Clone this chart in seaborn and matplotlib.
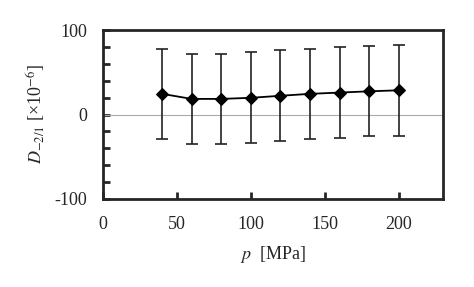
import matplotlib
matplotlib.use("Agg")
import matplotlib.pyplot as plt
from matplotlib.ticker import MultipleLocator
import seaborn as sns
import pandas as pd

# values
pressure = [40, 60, 80, 100, 120, 140, 160, 180, 200]
d_mean = [24.5, 18.5, 18.5, 19.8, 22.2, 24.5, 26.0, 27.5, 28.7]
d_err = [53.5, 53.5, 53.5, 53.8, 53.8, 53.5, 54.0, 53.5, 53.8]

df = pd.DataFrame({"p": pressure, "D": d_mean, "err": d_err})

sns.set_style("ticks")
plt.rcParams["font.family"] = ["Liberation Serif", "DejaVu Serif"]
plt.rcParams["mathtext.fontset"] = "stix"
plt.rcParams["axes.unicode_minus"] = False

fig = plt.figure(figsize=(4.74, 2.87), dpi=100)
ax = fig.add_axes([0.217, 0.307, 0.718, 0.588])

ax.axhline(0, color="#aaaaaa", lw=0.8, zorder=1)
ax.errorbar(df["p"], df["D"], yerr=df["err"], fmt="none", ecolor="#222222",
            elinewidth=1.2, capsize=4, capthick=1.2, zorder=2)
sns.lineplot(data=df, x="p", y="D", ax=ax, color="black", marker="D",
             markersize=6.5, linewidth=1.3, markeredgecolor="black", zorder=3)

ax.set_xlim(0, 230)
ax.set_ylim(-100, 100)
ax.set_xticks([0, 50, 100, 150, 200])
ax.set_yticks([-100, 0, 100])
ax.yaxis.set_minor_locator(MultipleLocator(20))
ax.tick_params(axis="both", which="both", direction="in", width=2, labelsize=13)
ax.tick_params(axis="x", which="major", length=5, pad=12)
ax.tick_params(axis="y", which="both", length=5, pad=11)
for s in ax.spines.values():
    s.set_linewidth(2)

ax.set_xlabel(r"$p$  [MPa]", fontsize=13, labelpad=8)
ax.set_ylabel(r"$D_{-2/1}$ [×10$^{-6}$]", fontsize=13, labelpad=5)

fig.savefig("out.png", dpi=100)
